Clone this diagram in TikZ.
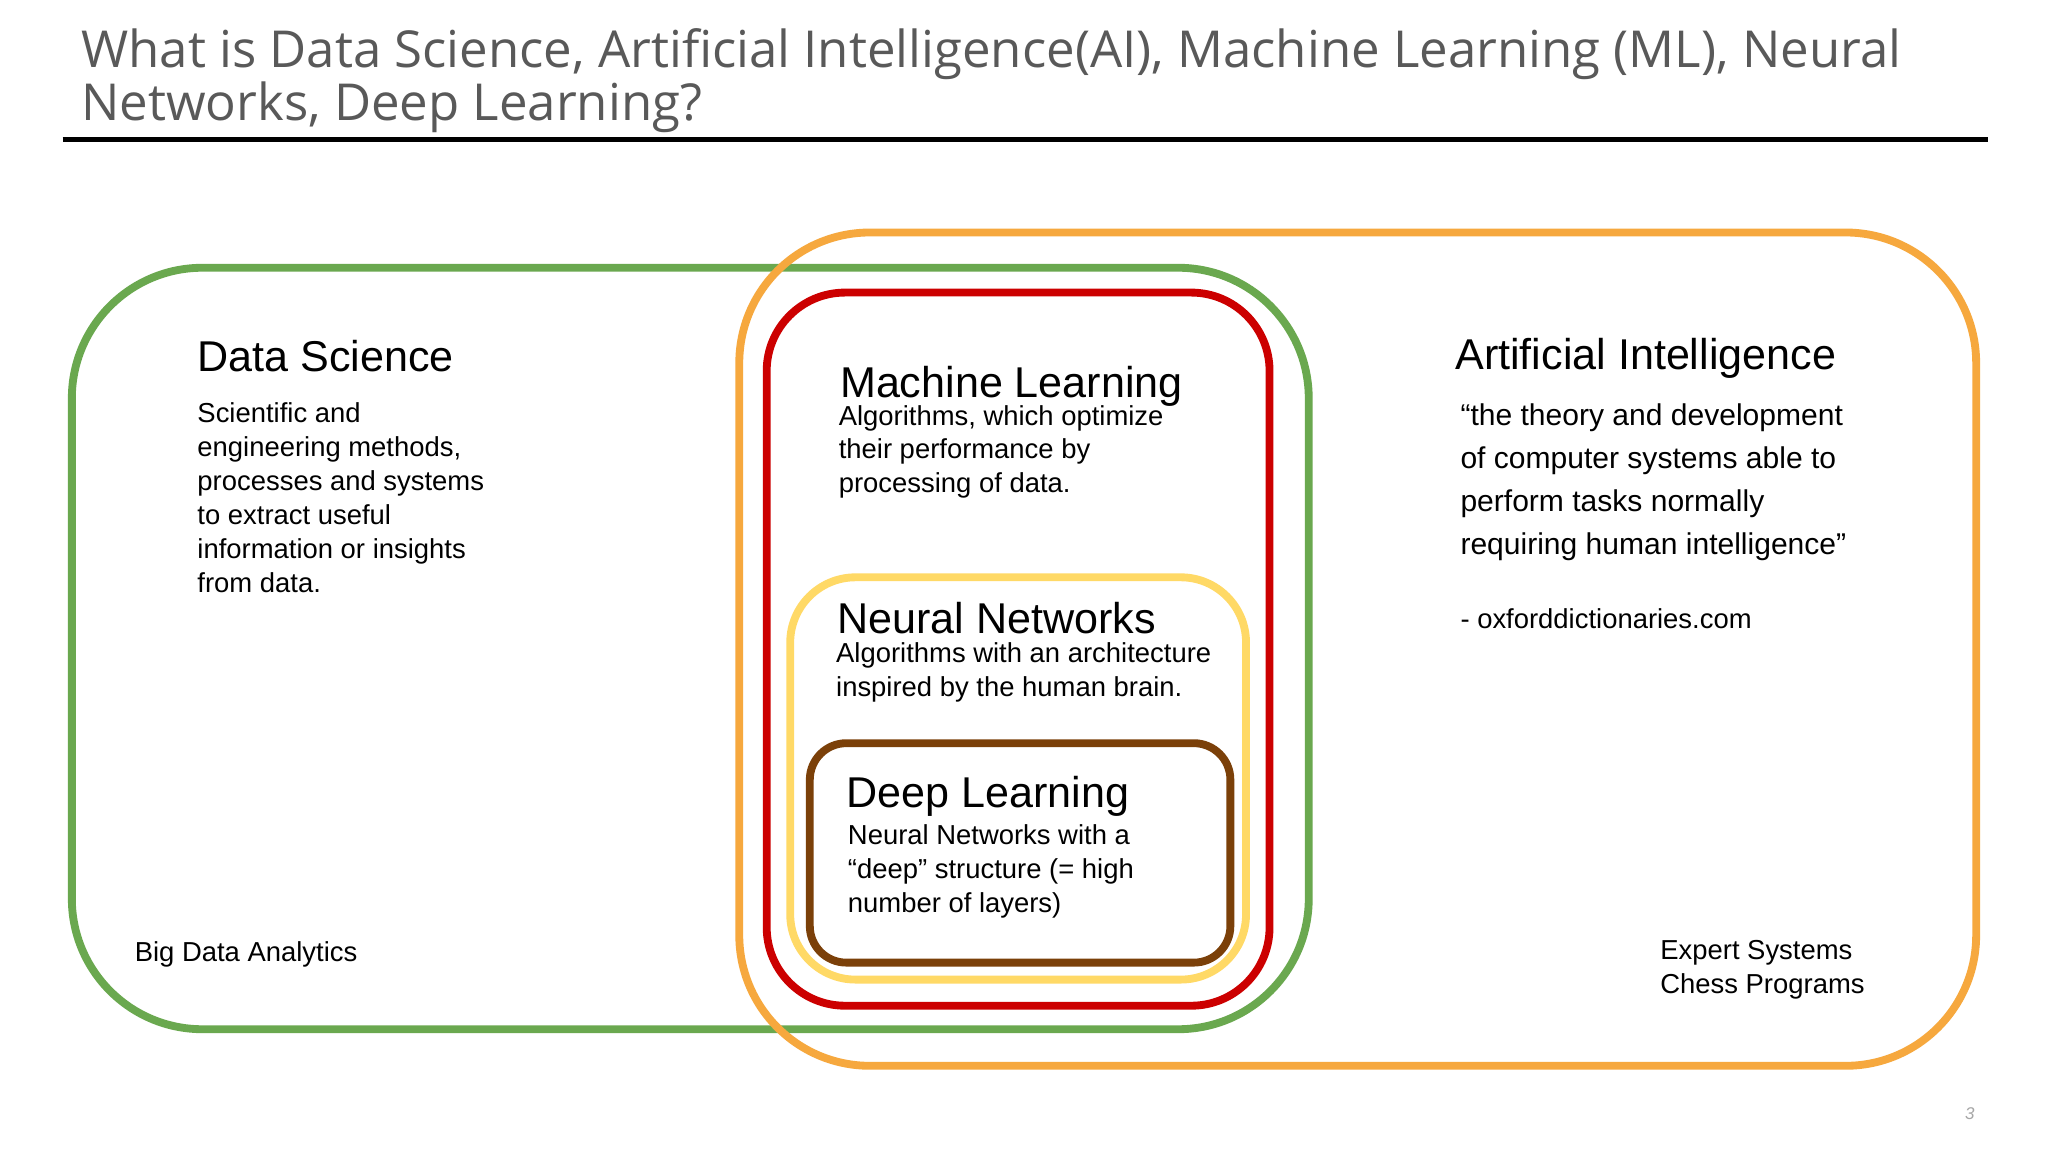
\documentclass[tikz,border=0pt]{standalone}
\usepackage{fontspec}
\setmainfont{Liberation Sans}
\newfontfamily\titlefont{Open Sans}
\definecolor{cgreen}{HTML}{6AA84F}
\definecolor{corange}{HTML}{F6A83E}
\definecolor{cred}{HTML}{CC0000}
\definecolor{cyellow}{HTML}{FFD966}
\definecolor{cbrown}{HTML}{7B4009}
\definecolor{ctitle}{HTML}{595959}
\begin{document}
\begin{tikzpicture}[x=1pt,y=-1pt,
  ring/.style={line width=6pt},
  head/.style={anchor=north west,inner sep=0pt,font=\fontsize{33}{38}\selectfont},
  body/.style={anchor=north west,inner sep=0pt,align=left,font=\fontsize{21}{26}\selectfont},
  aibody/.style={anchor=north west,inner sep=0pt,align=left,font=\fontsize{23}{33}\selectfont}]
\useasboundingbox[fill=white] (0,0) rectangle (1568,882);
\node[anchor=north west,inner sep=0pt,align=left,text=ctitle,font=\titlefont\fontsize{39}{33}\selectfont] (title) at (62,22)
 {What is Data Science, Artificial Intelligence(AI), Machine Learning (ML), Neural\\Networks, Deep Learning?};
\draw[line width=3.5pt] (48,107) coordinate (r1) -- (1522,107) coordinate (r2);
\draw[ring,cgreen,rounded corners=100pt] (55,205) rectangle (1002,788);
\draw[ring,corange,rounded corners=100pt] (566,178) rectangle (1513,816);
\draw[ring,cred,rounded corners=60pt] (587,224) rectangle (972,770);
\draw[ring,cyellow,rounded corners=50pt] (605,442) rectangle (954,750);
\draw[ring,cbrown,rounded corners=28pt] (620,569) rectangle (942,737);
\node[head] (ds) at (151,260) {Data Science};
\node[body] (dsb) at (151,308) {Scientific and\\engineering methods,\\processes and systems\\to extract useful\\information or insights\\from data.};
\node[head] (ml) at (643,280) {Machine Learning};
\node[body] (mlb) at (642,310) {Algorithms, which optimize\\their performance by\\processing of data.};
\node[head] (nn) at (641,461) {Neural Networks};
\node[body] (nnb) at (640,492) {Algorithms with an architecture\\inspired by the human brain.};
\node[head] (dl) at (648,594) {Deep Learning};
\node[body] (dlb) at (649,631) {Neural Networks with a\\“deep” structure (= high\\number of layers)};
\node[head] (ai) at (1114,259) {Artificial Intelligence};
\node[aibody] (aib) at (1118,309) {“the theory and development\\of computer systems able to\\perform tasks normally\\requiring human intelligence”};
\node[body] (ox) at (1118,466) {- oxforddictionaries.com};
\node[body] (bda) at (103,721) {Big Data Analytics};
\node[body] (es) at (1271,720) {Expert Systems\\Chess Programs};
\node[anchor=base east,inner sep=0pt,text=gray!70,font=\itshape\fontsize{13}{15}\selectfont] (pg) at (1512,857) {3};
\end{tikzpicture}
\end{document}
